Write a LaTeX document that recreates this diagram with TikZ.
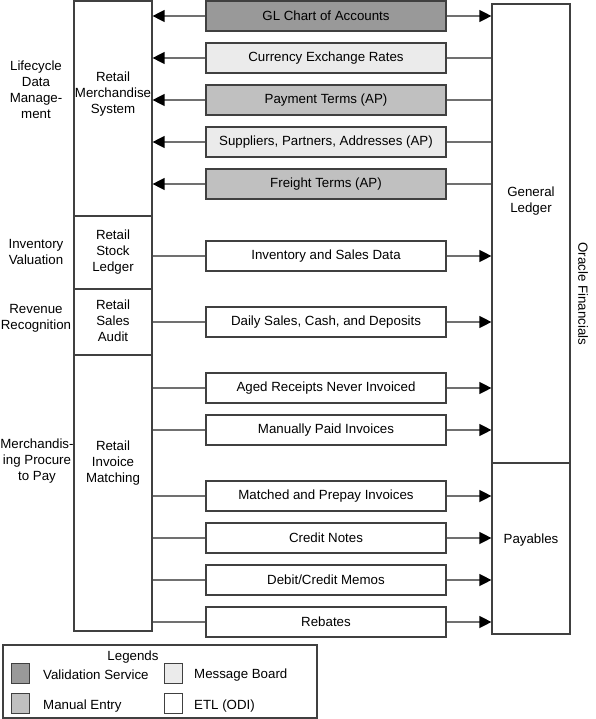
\documentclass[tikz,border=0pt]{standalone}
\usepackage{fontspec}
\setmainfont{Liberation Sans}
\usetikzlibrary{arrows.meta}
\definecolor{valid}{HTML}{999999}
\definecolor{manual}{HTML}{C0C0C0}
\definecolor{board}{HTML}{EBEBEB}
\definecolor{edge}{HTML}{404040}
\definecolor{wire}{HTML}{707070}
\tikzset{x=1pt,y=-1pt,
    every node/.style={font=\fontsize{13.3}{16}\selectfont},
    col/.style={draw=edge,line width=1.2pt,minimum width=78pt,inner sep=0pt},
    msg/.style={draw=edge,line width=1.2pt,minimum width=240pt,minimum height=30pt,inner sep=0pt},
    swatch/.style={draw=edge,line width=1pt,minimum width=18pt,minimum height=20pt,inner sep=0pt},
    txt/.style={align=center,inner sep=0pt},
    feed/.style={draw=wire,line width=1.3pt},
    tip/.style={-{Triangle[length=12pt,width=12pt,color=black]}}}

\begin{document}
\begin{tikzpicture}
\useasboundingbox (0,0) rectangle (595,719);
\node[col,minimum height=215pt] (rms) at (113,108.5) {};
\node[col,minimum height=73pt] (rsl) at (113,252.5) {};
\node[col,minimum height=66pt] (rsa) at (113,322) {};
\node[col,minimum height=276pt] (rim) at (113,493) {};
\node[col,minimum height=459pt] (gl) at (531,233.5) {};
\node[col,minimum height=171pt] (ap) at (531,548.5) {};
\node[txt] (rmst) at (113,94) {Retail\\Merchandise\\System};
\node[txt] (rslt) at (113,252) {Retail\\Stock\\Ledger};
\node[txt] (rsat) at (113,321) {Retail\\Sales\\Audit};
\node[txt] (rimt) at (113,463) {Retail\\Invoice\\Matching};
\node[txt] (glt) at (531,201) {General\\Ledger};
\node[txt] (apt) at (531,540) {Payables};
\node[txt,rotate=-90] (of) at (583,294) {Oracle Financials};
\node[txt] (ldm) at (36,90) {Lifecycle\\Data\\Manage-\\ment};
\node[txt] (inv) at (36,252) {Inventory\\Valuation};
\node[txt] (rev) at (36,318) {Revenue\\Recognition};
\node[txt] (mpp) at (37,461) {Merchandis-\\ing Procure\\to Pay};
\foreach \y/\t/\c [count=\i] in {16/{GL Chart of Accounts}/valid,
    58/{Currency Exchange Rates}/board,
    100/{Payment Terms (AP)}/manual,
    142/{Suppliers, Partners, Addresses (AP)}/board,
    184/{Freight Terms (AP)}/manual,
    256/{Inventory and Sales Data}/white,
    322/{Daily Sales, Cash, and Deposits}/white,
    388/{Aged Receipts Never Invoiced}/white,
    430/{Manually Paid Invoices}/white,
    496/{Matched and Prepay Invoices}/white,
    538/{Credit Notes}/white,
    580/{Debit/Credit Memos}/white,
    622/{Rebates}/white}
    \node[msg,fill=\c] (m\i) at (326,\y) {\t};
\foreach \i in {1,...,5}
    \draw[feed,tip] (m\i.west) -- (m\i.west -| rms.east);
\draw[feed,tip] (m1.east) -- (m1.east -| gl.west);
\foreach \i in {2,...,5}
    \draw[feed] (m\i.east) -- (m\i.east -| gl.west);
\foreach \i/\s/\d in {6/rsl/gl,7/rsa/gl,8/rim/gl,9/rim/gl,10/rim/ap,11/rim/ap,12/rim/ap,13/rim/ap}{
    \draw[feed] (m\i.west) -- (m\i.west -| \s.east);
    \draw[feed,tip] (m\i.east) -- (m\i.east -| \d.west);
}
\node[draw=edge,line width=1.2pt,minimum width=314pt,minimum height=73pt,inner sep=0pt] (leg) at (160,681.5) {};
\node[txt] (legt) at (133,657) {Legends};
\node[swatch,fill=valid] (s1) at (20,673) {};
\node[swatch,fill=manual] (s2) at (20,703.5) {};
\node[swatch,fill=board] (s3) at (173,673) {};
\node[swatch,fill=white] (s4) at (173,703.5) {};
\node[txt,anchor=west] (t1) at (43,675) {Validation Service};
\node[txt,anchor=west] (t2) at (43,706) {Manual Entry};
\node[txt,anchor=west] (t3) at (194,675) {Message Board};
\node[txt,anchor=west] (t4) at (194,706) {ETL (ODI)};
\end{tikzpicture}
\end{document}
